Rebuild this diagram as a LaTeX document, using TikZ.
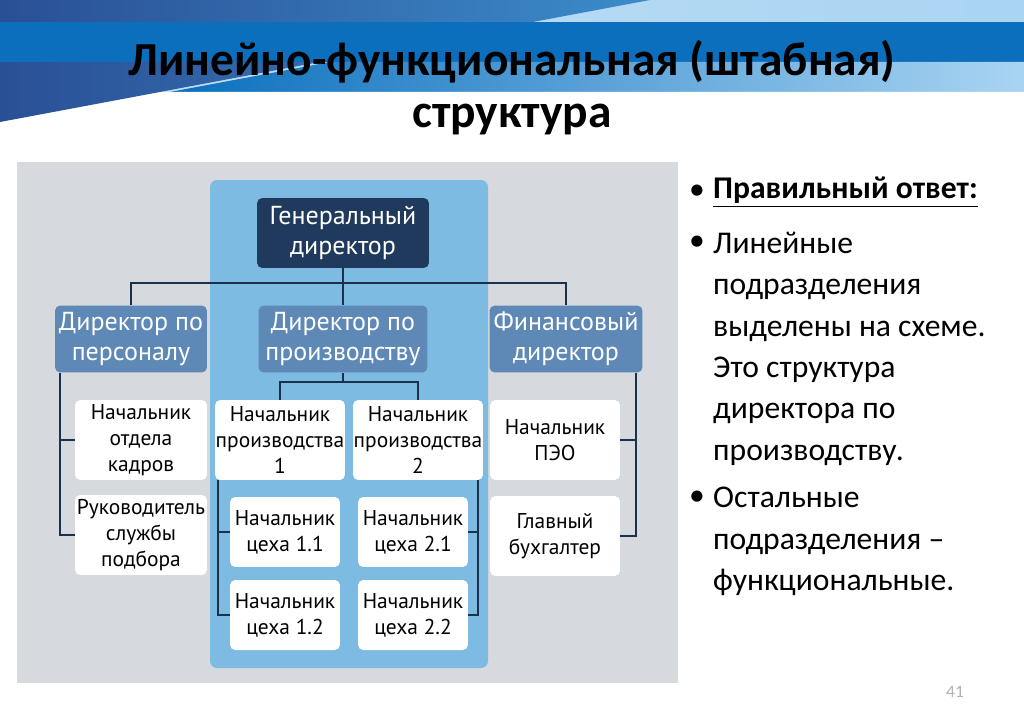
\documentclass[tikz,border=0pt]{standalone}
\usepackage{fontspec}
\setmainfont{Carlito}
\newfontfamily\boxfont{PT Sans}
\definecolor{navy}{HTML}{1F3A5C}
\definecolor{steel}{HTML}{5E88B6}
\definecolor{panelblue}{HTML}{7DBBE3}
\definecolor{panelgray}{HTML}{D6D9DE}
\definecolor{bandblue}{HTML}{0B6FBD}
\definecolor{darkblue}{HTML}{2A4F95}
\definecolor{lightblue}{HTML}{A9D4F2}
\tikzset{
  box/.style={fill=white, rounded corners=3pt, align=center, font=\boxfont\fontsize{12.2}{14.8}\selectfont, inner sep=0pt},
  dirbox/.style={fill=steel, text=white, rounded corners=3pt, align=center, font=\boxfont\fontsize{14.8}{17}\selectfont, inner sep=0pt, minimum height=1.34cm},
  link/.style={draw=navy!85!black, line width=1.3pt},
  bul/.style={anchor=west, font=\fontsize{18}{21}\selectfont}
}
\begin{document}
\begin{tikzpicture}[x=0.02cm, y=-0.02cm]
  \useasboundingbox (0,0) rectangle (1024,723);
  \fill[white] (0,0) rectangle (1024,723);
  % header
  \shade[left color=lightblue!70, right color=lightblue] (0,0) rectangle (1024,92);
  \shade[left color=darkblue, right color=bandblue!80] (0,0) -- (650,0) -- (0,122) -- cycle;
  \fill[bandblue] (0,22) rectangle (1024,62);
  \shade[left color=bandblue, right color=lightblue] (330,62) -- (1024,62) -- (1024,92) -- (170,92) -- cycle;
  \fill[white] (170,92) -- (1024,92) -- (1024,100) -- (130,100) -- cycle;
  \node (title) at (512,62) {\fontsize{27}{32}\selectfont\bfseries Линейно-функциональная (штабная)};
  \node (title2) at (512,120) {\fontsize{27}{32}\selectfont\bfseries структура};
  % panels
  \fill[panelgray] (17,162) rectangle (678,683);
  \fill[panelblue, rounded corners=4pt] (210,180) rectangle (488,668);
  % place nodes
  \node[box, fill=navy, text=white, minimum width=3.44cm, minimum height=1.4cm, font=\boxfont\fontsize{14.8}{17}\selectfont] (gd) at (343,233) {Генеральный\\директор};
  \node[dirbox, minimum width=3.04cm] (dpers) at (131,339) {Директор по\\персоналу};
  \node[dirbox, minimum width=3.38cm] (dprod) at (343,339) {Директор по\\производству};
  \node[dirbox, minimum width=3.06cm] (dfin) at (566,339) {Финансовый\\директор};
  \node[box, minimum width=2.64cm, minimum height=1.6cm] (kadr) at (141,440) {Начальник\\отдела\\кадров};
  \node[box, minimum width=2.64cm, minimum height=1.6cm] (podb) at (141,535) {Руководитель\\службы\\подбора};
  \node[box, minimum width=2.6cm, minimum height=1.6cm] (prod1) at (280,440) {Начальник\\производства\\1};
  \node[box, minimum width=2.6cm, minimum height=1.6cm] (prod2) at (418,440) {Начальник\\производства\\2};
  \node[box, minimum width=2.2cm, minimum height=1.4cm] (c11) at (285,532) {Начальник\\цеха 1.1};
  \node[box, minimum width=2.2cm, minimum height=1.4cm] (c12) at (285,615) {Начальник\\цеха 1.2};
  \node[box, minimum width=2.2cm, minimum height=1.4cm] (c21) at (413,532) {Начальник\\цеха 2.1};
  \node[box, minimum width=2.2cm, minimum height=1.4cm] (c22) at (413,615) {Начальник\\цеха 2.2};
  \node[box, minimum width=2.6cm, minimum height=1.6cm] (peo) at (555,440) {Начальник\\ПЭО};
  \node[box, minimum width=2.6cm, minimum height=1.6cm] (buh) at (555,536) {Главный\\бухгалтер};
  % draw edges
  \draw[link] (gd.south) -- (343,283) -| (dpers.north);
  \draw[link] (343,283) -| (dfin.north);
  \draw[link] (343,283) -- (dprod.north);
  \draw[link] (dprod.south) -- (343,382) -| (prod1.north);
  \draw[link] (343,382) -| (prod2.north);
  \draw[link] (dpers.south -| 60,0) |- (podb.west);
  \draw[link] (60,440) -- (kadr.west);
  \draw[link] (dfin.south -| 636,0) |- (buh.east);
  \draw[link] (636,440) -- (peo.east);
  \draw[link] (prod1.south -| 218,0) |- (c12.west);
  \draw[link] (218,532) -- (c11.west);
  \draw[link] (prod2.south -| 478,0) |- (c22.east);
  \draw[link] (478,532) -- (c21.east);
  % text on the right
  \foreach \y in {192,243,498} \node[bul] at (683,\y) {•};
  \node[bul] (ans) at (707,192) {\bfseries\underline{Правильный ответ:}};
  \node[bul, align=left, font=\fontsize{18}{23.5}\selectfont, anchor=north west] (lin) at (707,226) {Линейные\\подразделения\\выделены на схеме.\\Это структура\\директора по\\производству.};
  \node[bul, align=left, font=\fontsize{18}{23.5}\selectfont, anchor=north west] (rest) at (707,481) {Остальные\\подразделения --\\функциональные.};
  \node[text=gray!60, font=\fontsize{10}{12}\selectfont] (page) at (955,692) {41};
\end{tikzpicture}
\end{document}
